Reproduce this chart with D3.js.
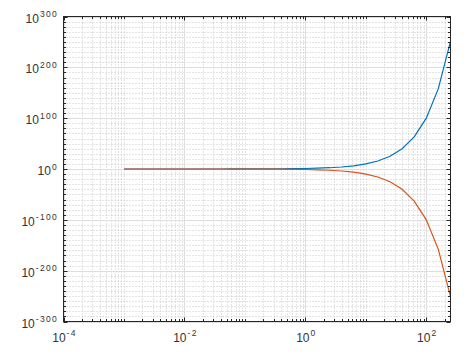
<!DOCTYPE html>
<html>
<head>
<meta charset="utf-8">
<script src="https://cdn.jsdelivr.net/npm/d3@7"></script>
<style>
  html, body { margin: 0; padding: 0; background: #fff; }
  svg { display: block; }
  text { font-family: "Liberation Sans", Arial, sans-serif; fill: #333333; }
</style>
</head>
<body>
<script>
const xValues = [0.001, 0.00158, 0.00251, 0.00398, 0.00631, 0.01, 0.0158, 0.0251, 0.0398, 0.0631,
                 0.1, 0.158, 0.251, 0.398, 0.631, 1, 1.58, 2.51, 3.98, 6.31,
                 10, 15.8, 25.1, 39.8, 63.1, 100, 158, 251.19];
const blueValues = [1, 1, 1, 1, 1, 1, 1, 1.06, 1.1, 1.16,
                    1.26, 1.44, 1.78, 2.5, 4.3, 10, 38, 324, 9.5e3, 2.0e6,
                    1e10, 6.3e15, 1.3e25, 6.3e39, 1.3e63, 1e100, 1e158, 1e251];
const orangeValues = [1, 1, 1, 1, 1, 1, 1, 0.94, 0.91, 0.86,
                      0.79, 0.69, 0.56, 0.4, 0.23, 0.1, 0.026, 3.1e-3, 1.05e-4, 4.9e-7,
                      1e-10, 1.6e-16, 7.9e-26, 1.6e-40, 7.9e-64, 1e-100, 1e-158, 1e-251];
const xTickExps = [-4, -2, 0, 2];
const yTickExps = [-300, -200, -100, 0, 100, 200, 300];
const xDomain = [1e-4, 251.19];
const yDomain = [1e-300, 1e300];

const W = 474, H = 359;
const L = 63.5, R = 450.5, T = 16.5, B = 321.5;

const svg = d3.select("body").append("svg").attr("width", W).attr("height", H);

const x = d3.scaleLog().domain(xDomain).range([L, R]);
const y = d3.scaleLog().domain(yDomain).range([B, T]);

// tick sets
const xMajor = xTickExps.map(e => Math.pow(10, e));
const xMinor = [];
for (let e = -4; e <= 2; e++) {
  for (let m = 1; m <= 9; m++) {
    const v = m * Math.pow(10, e);
    if (v > xDomain[1] * 1.0001 || v < xDomain[0]) continue;
    if (m === 1 && xTickExps.includes(e)) continue;
    xMinor.push(v);
  }
}
const yMajorExp = yTickExps;
const yMinorExp = [];
for (let e = -300; e <= 300; e += 10) if (!yTickExps.includes(e)) yMinorExp.push(e);

const yPos = e => B - (e - (-300)) / 600 * (B - T);

const g = svg.append("g");

// minor grid
g.selectAll(".xmg").data(xMinor).enter().append("line")
  .attr("x1", d => Math.round(x(d)) + 0.5).attr("x2", d => Math.round(x(d)) + 0.5)
  .attr("y1", T).attr("y2", B)
  .attr("stroke", "#c8c8c8").attr("stroke-width", 1).attr("stroke-dasharray", "1,2");
g.selectAll(".ymg").data(yMinorExp).enter().append("line")
  .attr("y1", d => Math.round(yPos(d)) + 0.5).attr("y2", d => Math.round(yPos(d)) + 0.5)
  .attr("x1", L).attr("x2", R)
  .attr("stroke", "#c8c8c8").attr("stroke-width", 1).attr("stroke-dasharray", "1,2");
// major grid
g.selectAll(".xMg").data(xMajor).enter().append("line")
  .attr("x1", d => Math.round(x(d)) + 0.5).attr("x2", d => Math.round(x(d)) + 0.5)
  .attr("y1", T).attr("y2", B)
  .attr("stroke", "#dedede").attr("stroke-width", 1);
g.selectAll(".yMg").data(yMajorExp).enter().append("line")
  .attr("y1", d => Math.round(yPos(d)) + 0.5).attr("y2", d => Math.round(yPos(d)) + 0.5)
  .attr("x1", L).attr("x2", R)
  .attr("stroke", "#dedede").attr("stroke-width", 1);

// lines
const line = (vals) => d3.line()
  .x((d, i) => x(xValues[i]))
  .y(d => y(d))(vals);

svg.append("path").attr("d", line(blueValues))
  .attr("fill", "none").attr("stroke", "#0072BD").attr("stroke-width", 1.2);
svg.append("path").attr("d", line(orangeValues))
  .attr("fill", "none").attr("stroke", "#D95319").attr("stroke-width", 1.2);

// box
const ax = svg.append("g").attr("stroke", "#262626").attr("stroke-width", 1).attr("fill", "none");
ax.append("rect").attr("x", L).attr("y", T).attr("width", R - L).attr("height", B - T);

// ticks (inward, all four sides)
const xt = (v, len) => {
  const px = Math.round(x(v)) + 0.5;
  ax.append("line").attr("x1", px).attr("x2", px).attr("y1", B).attr("y2", B - len);
  ax.append("line").attr("x1", px).attr("x2", px).attr("y1", T).attr("y2", T + len);
};
xMajor.forEach(v => xt(v, 4));
xMinor.forEach(v => xt(v, 2.5));
const yt = (e, len) => {
  const py = Math.round(yPos(e)) + 0.5;
  ax.append("line").attr("x1", L).attr("x2", L + len).attr("y1", py).attr("y2", py);
  ax.append("line").attr("x1", R).attr("x2", R - len).attr("y1", py).attr("y2", py);
};
yMajorExp.forEach(e => yt(e, 4));
yMinorExp.forEach(e => yt(e, 2.5));

// labels
const mkLabel = (sel, exp, anchorEnd) => {
  sel.append("tspan").attr("font-size", "12px").text("10");
  sel.append("tspan").attr("font-size", "8.5px").attr("dy", -5.5).attr("dx", 1)
    .attr("letter-spacing", "1.3px").text(String(exp));
};
xTickExps.forEach(e => {
  const t = svg.append("text").attr("x", x(Math.pow(10, e)) + 1).attr("y", 341.5)
    .attr("text-anchor", "middle");
  mkLabel(t, e);
});
yTickExps.forEach(e => {
  const t = svg.append("text").attr("x", 58).attr("y", yPos(e) + 6)
    .attr("text-anchor", "end");
  mkLabel(t, e);
});
</script>
</body>
</html>
